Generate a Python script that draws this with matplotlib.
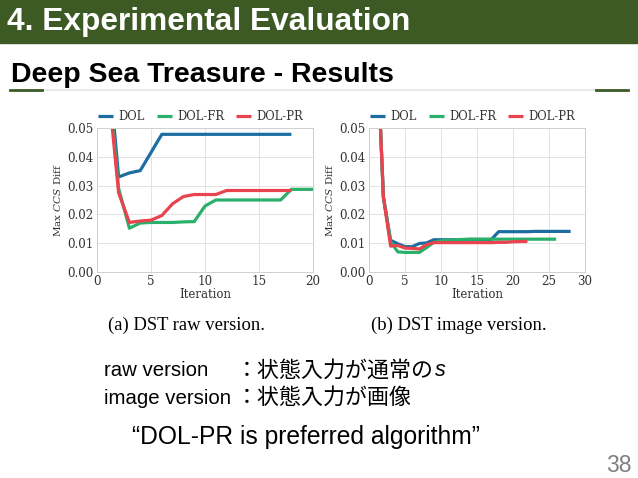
import matplotlib
matplotlib.use("Agg")
import matplotlib.pyplot as plt
from matplotlib.text import Annotation

# ---- data ----
SERIES = ["DOL", "DOL-FR", "DOL-PR"]
COLORS = ["#1c6ea0", "#2bb06b", "#e8434f"]

RAW_DOL = [0.075, 0.0330, 0.0344, 0.0352, 0.0415, 0.0478, 0.0478, 0.0478, 0.0478,
           0.0478, 0.0478, 0.0478, 0.0478, 0.0478, 0.0478, 0.0478, 0.0478, 0.0478]
RAW_FR = [0.070, 0.0290, 0.0152, 0.0170, 0.0172, 0.0172, 0.0172, 0.0174, 0.0175, 0.0229,
          0.0250, 0.0250, 0.0250, 0.0250, 0.0250, 0.0250, 0.0250, 0.0287, 0.0287, 0.0287]
RAW_PR = [0.066, 0.0275, 0.0172, 0.0177, 0.0180, 0.0196, 0.0237, 0.0262, 0.0269,
          0.0269, 0.0269, 0.0283, 0.0283, 0.0283, 0.0283, 0.0283, 0.0283, 0.0283]

IMG_DOL = [0.085, 0.026, 0.0110, 0.0098, 0.0088, 0.0088, 0.0099, 0.0101, 0.0112, 0.0112,
           0.0112, 0.0112, 0.0112, 0.0113, 0.0113, 0.0113, 0.0113, 0.0140, 0.0140, 0.0140,
           0.0140, 0.0140, 0.0141, 0.0141, 0.0141, 0.0141, 0.0141, 0.0141]
IMG_FR = [0.085, 0.026, 0.0105, 0.0070, 0.0068, 0.0068, 0.0068, 0.0085, 0.0103, 0.0108,
          0.0110, 0.0112, 0.0113, 0.0114, 0.0114, 0.0114, 0.0114, 0.0114, 0.0114, 0.0114,
          0.0114, 0.0114, 0.0114, 0.0114, 0.0114, 0.0114]
IMG_PR = [0.085, 0.026, 0.0090, 0.0092, 0.0083, 0.0082, 0.0080, 0.0095, 0.0102, 0.0102,
          0.0102, 0.0102, 0.0102, 0.0102, 0.0102, 0.0102, 0.0102, 0.0103, 0.0103, 0.0105,
          0.0106, 0.0106]

RAW_XMAX, IMG_XMAX = 20, 30
YTICKS = [0.00, 0.01, 0.02, 0.03, 0.04, 0.05]

GREEN_BAR = "#3d5a25"
W, H = 638, 478


def px_axes(fig, x0, y0, x1, y1):
    """Axes from pixel box (top-left origin)."""
    return fig.add_axes([x0 / W, 1 - y1 / H, (x1 - x0) / W, (y1 - y0) / H])


def fy(y):
    return 1 - y / H


def draw_panel(ax, data, xmax, xticks):
    for ys, name, c in zip(data, SERIES, COLORS):
        ax.plot(range(1, len(ys) + 1), ys, color=c, lw=2.3, label=name,
                solid_capstyle="butt")
    ax.set_xlim(0, xmax)
    ax.set_ylim(0, 0.05)
    ax.set_xticks(xticks)
    ax.set_yticks(YTICKS)
    ax.set_yticklabels([f"{v:.2f}" for v in YTICKS])
    ax.grid(True, color="#e2e2e2", lw=0.7)
    ax.set_axisbelow(True)
    for s in ax.spines.values():
        s.set_color("#d0d0d0")
        s.set_linewidth(0.7)
    ax.tick_params(length=0, labelsize=8.6, colors="#333333", pad=2.5)
    ax.set_xlabel("Iteration", fontsize=8.5, color="#333333", labelpad=0)
    ax.set_ylabel("Max $CCS$ Diff", fontsize=7.5, color="#333333", labelpad=3)
    ax.legend(loc="lower center", bbox_to_anchor=(0.48, 1.0), ncol=3, frameon=False,
              fontsize=8.3, handlelength=1.3, columnspacing=1.0, handletextpad=0.5,
              borderaxespad=0, labelcolor="#333333")


def main():
    plt.rcParams["font.family"] = "DejaVu Serif"
    plt.rcParams["mathtext.fontset"] = "dejavuserif"

    fig = plt.figure(figsize=(W / 100, H / 100), dpi=100)
    fig.patch.set_facecolor("white")

    # title bar
    fig.patches.append(plt.Rectangle((0, fy(43)), 1, 43 / H, transform=fig.transFigure,
                                     color=GREEN_BAR, zorder=0))
    sans = ["Liberation Sans", "Noto Sans CJK JP"]
    jp = ["Noto Sans CJK JP", "Liberation Sans"]
    fig.text(7 / W, fy(22), "4. Experimental Evaluation", color="white", fontsize=22.8,
             fontweight="bold", family=sans, va="center")
    fig.text(11 / W, fy(75), "Deep Sea Treasure - Results", color="black", fontsize=20.5,
             fontweight="bold", family=sans, va="center")
    # underline
    fig.add_artist(plt.Line2D([42 / W, 596 / W], [fy(90), fy(90)], color="#e8e8e8", lw=1.5,
                              transform=fig.transFigure))
    fig.add_artist(plt.Line2D([10 / W, 42 / W], [fy(90), fy(90)], color=GREEN_BAR, lw=2,
                              transform=fig.transFigure))
    fig.add_artist(plt.Line2D([596 / W, 628 / W], [fy(90), fy(90)], color=GREEN_BAR, lw=2,
                              transform=fig.transFigure))

    ax1 = px_axes(fig, 97, 128, 313, 272)
    draw_panel(ax1, [RAW_DOL, RAW_FR, RAW_PR], RAW_XMAX, [0, 5, 10, 15, 20])
    ax2 = px_axes(fig, 369, 128, 585, 272)
    draw_panel(ax2, [IMG_DOL, IMG_FR, IMG_PR], IMG_XMAX, [0, 5, 10, 15, 20, 25, 30])

    # captions
    fig.text(186 / W, fy(325), "(a) DST raw version.", fontsize=13.4,
             family="Liberation Serif", ha="center", va="center")
    fig.text(459 / W, fy(325), "(b) DST image version.", fontsize=13.4,
             family="Liberation Serif", ha="center", va="center")

    # notes
    fig.text(104 / W, fy(371), "raw version", fontsize=14.7, family=sans, va="center")
    t_raw = fig.text(236 / W, fy(371), "：状態入力が通常の", fontsize=15.8, family=jp,
                     va="center")
    fig.add_artist(Annotation("s", xy=(1, 0.5), xycoords=t_raw, xytext=(0.5, 0),
                              textcoords="offset points", fontsize=15.5,
                              family="Liberation Sans", style="italic", va="center"))
    fig.text(104 / W, fy(398), "image version", fontsize=14.7, family=sans, va="center")
    fig.text(236 / W, fy(398), "：状態入力が画像", fontsize=15.8, family=jp, va="center")
    fig.text(132 / W, fy(437), "\u201cDOL-PR is preferred algorithm\u201d", fontsize=17.7,
             family=sans, va="center")
    fig.text(632 / W, fy(465), "38", fontsize=16.5, color="#808080", family=sans,
             ha="right", va="center")

    fig.savefig("out.png", dpi=100)
    plt.close(fig)


if __name__ == "__main__":
    main()
